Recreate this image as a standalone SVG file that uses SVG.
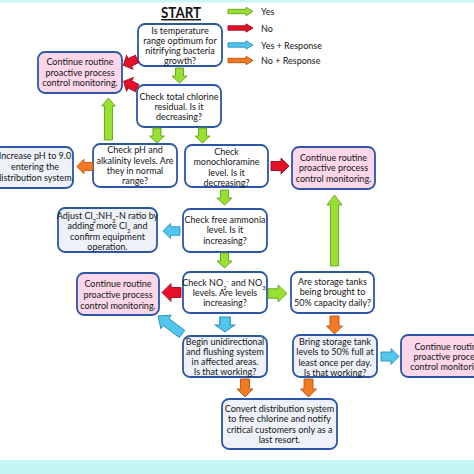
<svg xmlns="http://www.w3.org/2000/svg" xmlns:xlink="http://www.w3.org/1999/xlink" width="474" height="474" viewBox="0 0 474 474">
<style>
text{font-family:Lato,"Open Sans","Liberation Sans",sans-serif;font-size:9px;fill:#151515;text-anchor:middle}
.lg{text-anchor:start}
.box{stroke:#2c56a6;stroke-width:1.8}
.q{fill:#ffffff}
.act{fill:#eef2f8}
.pk{fill:#fcd6e9}
.g{fill:#98e032;stroke:#63a01c;stroke-width:0.9}
.r{fill:#e5102a;stroke:#a0081a;stroke-width:0.9}
.c{fill:#52c6ec;stroke:#2a8fbf;stroke-width:0.9}
.o{fill:#f27a22;stroke:#b8520e;stroke-width:0.9}
.sub{font-size:6px;baseline-shift:sub}
.sup{font-size:6px;baseline-shift:super}
</style>
<defs>
<path id="a15" d="M0,-4 H8 V-7.5 L15,0 L8,7.5 V4 H0 Z"/>
<path id="a18" d="M0,-4.5 H10 V-8 L18,0 L10,8 V4.5 H0 Z"/>
<path id="a19" d="M0,-5 H10 V-9 L19,0 L10,9 V5 H0 Z"/>
<path id="a30" d="M0,-4.5 H20 V-8.5 L30,0 L20,8.5 V4.5 H0 Z"/>
<path id="a42" d="M0,-4 H34 V-6.8 L42,0 L34,6.8 V4 H0 Z"/>
<path id="a71" d="M0,-4 H61 V-7.5 L71,0 L61,7.5 V4 H0 Z"/>
<path id="al" d="M0,-2.2 H18 V-4.2 L25,0 L18,4.2 V2.2 H0 Z"/>
</defs>
<rect x="0" y="0" width="474" height="474" fill="#ffffff"/>
<rect x="0" y="0" width="474" height="2.5" fill="#c8f5f5"/>
<rect x="0" y="460" width="474" height="14" fill="#c5f5f5"/>

<g id="title">
<text x="181" y="18" textLength="40" lengthAdjust="spacingAndGlyphs" style="font-size:14.5px;font-weight:bold;text-decoration:underline">START</text>
</g>

<g id="legend">
<use xlink:href="#al" href="#al" class="g" transform="translate(228,11.5)"/>
<use xlink:href="#al" href="#al" class="r" transform="translate(228,28)"/>
<use xlink:href="#al" href="#al" class="c" transform="translate(228,45)"/>
<use xlink:href="#al" href="#al" class="o" transform="translate(228,60.5)"/>
<text class="lg" x="261" y="15">Yes</text>
<text class="lg" x="261" y="31.5">No</text>
<text class="lg" x="261" y="48.5">Yes + Response</text>
<text class="lg" x="261" y="64">No + Response</text>
</g>

<g id="n-temp">
<rect class="box q" x="138" y="24" width="84" height="42" rx="7"/>
<text x="180" y="33.5">Is temperature</text>
<text x="180" y="43.5">range optimum for</text>
<text x="180" y="54">nitrifying bacteria</text>
<text x="180" y="64">growth?</text>
</g>

<g id="n-cont1">
<rect class="box pk" x="38" y="52" width="84" height="41" rx="7"/>
<text x="80" y="65">Continue routine</text>
<text x="80" y="76">proactive process</text>
<text x="80" y="86">control monitoring.</text>
</g>

<g id="n-chlorine">
<rect class="box q" x="137" y="85" width="84" height="42" rx="7"/>
<text x="179" y="100">Check total chlorine</text>
<text x="179" y="110">residual. Is it</text>
<text x="179" y="120">decreasing?</text>
</g>

<g id="n-ph">
<rect class="box q" x="93" y="144" width="84" height="43" rx="7"/>
<text x="135" y="153">Check pH and</text>
<text x="135" y="164">alkalinity levels. Are</text>
<text x="135" y="174">they in normal</text>
<text x="135" y="184">range?</text>
</g>

<g id="n-increase">
<rect class="box act" x="-6" y="147" width="79" height="41" rx="7"/>
<text x="35" y="159">Increase pH to 9.0</text>
<text x="35" y="170">entering the</text>
<text x="35" y="181">distribution system.</text>
</g>

<g id="n-mono">
<rect class="box q" x="185" y="145" width="83" height="42" rx="7"/>
<text x="226.5" y="155">Check</text>
<text x="226.5" y="165">monochloramine</text>
<text x="226.5" y="176">level. Is it</text>
<text x="226.5" y="186">decreasing?</text>
</g>

<g id="n-cont2">
<rect class="box pk" x="292" y="147" width="83" height="42" rx="7"/>
<text x="333.5" y="161">Continue routine</text>
<text x="333.5" y="171">proactive process</text>
<text x="333.5" y="182">control monitoring.</text>
</g>

<g id="n-ammonia">
<rect class="box q" x="183" y="209" width="84" height="43" rx="7"/>
<text x="225" y="223">Check free ammonia</text>
<text x="225" y="233">level. Is it</text>
<text x="225" y="244">increasing?</text>
</g>

<g id="n-adjust">
<rect class="box act" x="58" y="208" width="99" height="44" rx="7"/>
<text x="107.5" y="219">Adjust Cl<tspan class="sub">2</tspan>:NH<tspan class="sub">3</tspan>-N ratio by</text>
<text x="107.5" y="229">adding more Cl<tspan class="sub">2</tspan> and</text>
<text x="107.5" y="240">confirm equipment</text>
<text x="107.5" y="250">operation.</text>
</g>

<g id="n-nitrite">
<rect class="box q" x="183" y="272" width="84" height="41" rx="7"/>
<text x="225" y="286">Check NO<tspan class="sub">2</tspan><tspan class="sup">-</tspan> and NO<tspan class="sub">3</tspan><tspan class="sup">-</tspan></text>
<text x="225" y="296">levels. Are levels</text>
<text x="225" y="306">increasing?</text>
</g>

<g id="n-cont3">
<rect class="box pk" x="77" y="273" width="82" height="42" rx="7"/>
<text x="118" y="287">Continue routine</text>
<text x="118" y="298">proactive process</text>
<text x="118" y="309">control monitoring.</text>
</g>

<g id="n-storage">
<rect class="box q" x="291" y="272" width="83" height="41" rx="7"/>
<text x="332.5" y="285">Are storage tanks</text>
<text x="332.5" y="295">being brought to</text>
<text x="332.5" y="306">50% capacity daily?</text>
</g>

<g id="n-flush">
<rect class="box act" x="183" y="336" width="84" height="41" rx="7"/>
<text x="225" y="345">Begin unidirectional</text>
<text x="225" y="355">and flushing system</text>
<text x="225" y="365">in affected areas.</text>
<text x="225" y="375">Is that working?</text>
</g>

<g id="n-bring">
<rect class="box act" x="293" y="335" width="84" height="42" rx="7"/>
<text x="335" y="345">Bring storage tank</text>
<text x="335" y="355">levels to 50% full at</text>
<text x="335" y="366">least once per day.</text>
<text x="335" y="376">Is that working?</text>
</g>

<g id="n-cont4">
<rect class="box pk" x="401" y="335" width="94" height="42" rx="7"/>
<text x="448" y="350">Continue routine</text>
<text x="448" y="360">proactive process</text>
<text x="448" y="370">control monitoring.</text>
</g>

<g id="n-convert">
<rect class="box act" x="222" y="399" width="115" height="50" rx="7"/>
<text x="279.5" y="412">Convert distribution system</text>
<text x="279.5" y="422">to free chlorine and notify</text>
<text x="279.5" y="433">critical customers only as a</text>
<text x="279.5" y="443">last resort.</text>
</g>

<g id="connectors">
<use xlink:href="#a15" href="#a15" class="g" transform="translate(179.5,68) rotate(90)"/>
<use xlink:href="#a15" href="#a15" class="r" transform="translate(137,59) rotate(155)"/>
<use xlink:href="#a15" href="#a15" class="r" transform="translate(137,88) rotate(207)"/>
<use xlink:href="#a42" href="#a42" class="g" transform="translate(108.5,140) rotate(-90)"/>
<use xlink:href="#a15" href="#a15" class="g" transform="translate(157,128) rotate(90)"/>
<use xlink:href="#a15" href="#a15" class="g" transform="translate(202.5,128) rotate(90)"/>
<use xlink:href="#a18" href="#a18" class="o" transform="translate(93,166.5) rotate(180) scale(0.9)"/>
<use xlink:href="#a18" href="#a18" class="r" transform="translate(271,166)"/>
<use xlink:href="#a15" href="#a15" class="g" transform="translate(224.5,190) rotate(90)"/>
<use xlink:href="#a18" href="#a18" class="c" transform="translate(180,231) rotate(180) scale(0.95)"/>
<use xlink:href="#a15" href="#a15" class="g" transform="translate(224.5,253) rotate(90)"/>
<use xlink:href="#a19" href="#a19" class="r" transform="translate(181,292.5) rotate(180)"/>
<use xlink:href="#a19" href="#a19" class="g" transform="translate(268,293.5) scale(1,0.95)"/>
<use xlink:href="#a71" href="#a71" class="g" transform="translate(334.5,266) rotate(-90)"/>
<use xlink:href="#a15" href="#a15" class="c" transform="translate(225,317) rotate(90) scale(1,1.3)"/>
<use xlink:href="#a30" href="#a30" class="c" transform="translate(182,334) rotate(217)"/>
<use xlink:href="#a18" href="#a18" class="o" transform="translate(334.5,316) rotate(90)"/>
<use xlink:href="#a18" href="#a18" class="c" transform="translate(381,356.5)"/>
<use xlink:href="#a18" href="#a18" class="o" transform="translate(245,379) rotate(90)"/>
<use xlink:href="#a18" href="#a18" class="o" transform="translate(308.5,379) rotate(90)"/>
</g>
</svg>
